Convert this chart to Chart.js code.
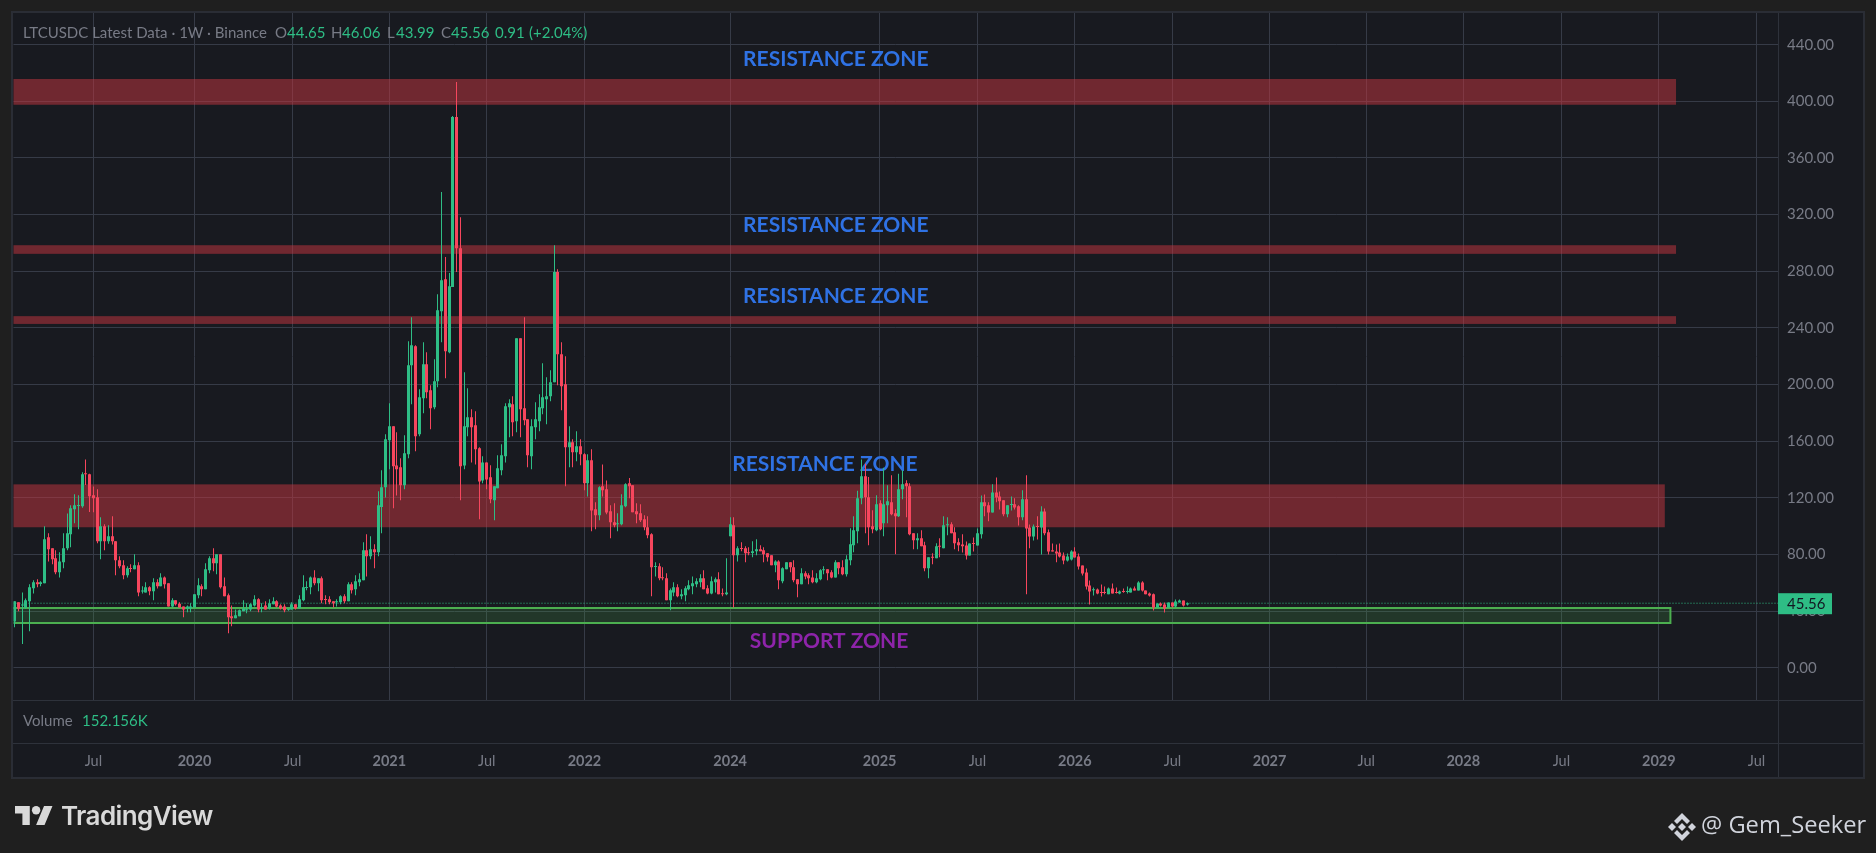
<!DOCTYPE html>
<html>
<head>
<meta charset="utf-8">
<title>LTCUSDC</title>
<script src="https://cdn.jsdelivr.net/npm/chart.js@4"></script>
<style>
  html, body { margin: 0; padding: 0; background: #1f1f1f; overflow: hidden; }
  #wrap { position: relative; width: 1876px; height: 853px; font-family: Lato, "Noto Sans", sans-serif; }
  #pane { position: absolute; left: 13px; top: 13px; width: 1850px; height: 764px; background: #181a20; box-shadow: 0 0 0 2px #2a2d35; }
  .rule { position: absolute; background: #2e323b; }
  canvas { position: absolute; left: 0; top: 0; display: block; }
  .t { position: absolute; white-space: nowrap; line-height: 1; }
  .gray { color: #787b86; }
  .green { color: #2ebd85; }
  .hd { top: 25px; font-size: 15px; }
  svg { position: absolute; }
</style>
</head>
<body>
<div id="wrap">
  <div id="pane"></div>
  <div class="rule" style="left:13px;top:700px;width:1850px;height:1px"></div>
  <div class="rule" style="left:13px;top:743px;width:1850px;height:1px"></div>
  <div class="rule" style="left:1778px;top:13px;width:1px;height:764px"></div>
  <canvas id="grafico" width="1876" height="853"></canvas>

  <span class="t hd gray" style="left:23px">LTCUSDC Latest Data · 1W · Binance</span>
  <span class="t hd gray" style="left:275px">O</span><span class="t hd green" style="left:287px">44.65</span>
  <span class="t hd gray" style="left:331px">H</span><span class="t hd green" style="left:342px">46.06</span>
  <span class="t hd gray" style="left:387px">L</span><span class="t hd green" style="left:396px">43.99</span>
  <span class="t hd gray" style="left:441px">C</span><span class="t hd green" style="left:451px">45.56</span>
  <span class="t hd green" style="left:495px">0.91</span><span class="t hd green" style="left:529px">(+2.04%)</span>

  <span class="t gray" style="left:23px;top:713px;font-size:15px">Volume</span>
  <span class="t green" style="left:82px;top:713px;font-size:15px">152.156K</span>

  <svg style="left:15px;top:806px" width="38" height="19" viewBox="0 4 36 18" fill="#d9d9d9"><path d="M14 22H7V11H0V4h14v18zM28 22h-8l7.5-18h8L28 22z"/><circle cx="20" cy="8" r="4"/></svg>
  <span class="t" style="left:61px;top:803px;font-size:26px;font-weight:600;color:#d9d9d9;font-family:Inter,Roboto,sans-serif;letter-spacing:-0.6px">TradingView</span>

  <svg style="left:1668px;top:813px" width="28" height="28" viewBox="0 0 28 28" fill="#d1d4dc"><path d="M14 0l8 8-3 3-5-5-5 5-3-3zM14 28l8-8-3-3-5 5-5-5-3 3zM4 10l4 4-4 4-4-4zM24 10l4 4-4 4-4-4zM14 10l4 4-4 4-4-4z"/></svg>
  <span class="t" style="left:1701px;top:813px;font-size:23.7px;color:#d1d4dc;font-family:'Open Sans',sans-serif">@ Gem_Seeker</span>
</div>

<script>
// --- VELAS SEMANALES ---
const opens = [
  32.7,46.2,44,42.4,46.9,56.1,60.3,59.1,59.6,92.1,
  84.3,77.3,67.4,74.4,84.3,94.2,111.9,114.3,114,137,
  136.6,121.8,120.4,89.3,99.9,89.3,92.8,89.3,75.9,72.3,
  65.3,70.2,69.5,72.3,53.9,53.2,56.8,54,60.3,57.5,
  63.8,59.6,43.3,47.6,45.2,43.3,41.9,41.9,42.6,51.1,
  57.5,55.4,68.8,77.3,73.7,80.1,57.5,51.1,36.3,34.9,
  36.3,39.8,40.5,41.2,44,48.3,41.9,44,41.9,44.8,
  46.9,44,43.3,40.9,41.2,44.8,41.9,47.6,56.3,56.8,
  63.8,59.6,63.1,48.3,48.3,46.9,46.2,46.2,50.4,46.9,
  58.9,55.4,60.3,61.7,82.9,78.7,83.6,81.5,113.5,127.4,
  160.6,170.5,142.9,141.5,128.8,150.7,213.6,227,164.9,190.3,
  214.3,196,183.9,202.3,251.8,274.4,222.8,268.8,388.9,296.3,
  142.9,169.8,176.9,171.2,155,132.3,145,134.5,118.2,126.7,
  139.4,149.3,183.9,186.1,174,232.7,183.2,175.5,149.3,169.8,
  174,183.2,189.6,191.7,201.6,279.4,221.4,200.2,155.7,159.2,
  152.1,156.4,150.7,130.2,146.5,111.9,107.6,128.1,126,110.5,
  102.7,101.3,101.3,114,130.3,128.9,110.5,109.1,104.8,99.2,
  94.2,71.1,71.6,63.6,63.1,47.6,53.2,56.8,50.4,51.1,
  55.4,57.5,58.9,60.3,63.1,56.1,52.5,60.3,62.4,52.3,
  51.8,92.8,100.6,79.4,84.3,84.3,81.2,81,82.2,83.6,
  83,80.8,79.4,72.3,75.1,61,69.5,74.4,70.9,62.4,
  58.9,66.7,65.3,63.8,60.3,62.4,68.8,69.5,67.4,63.8,
  74.4,70.9,66,75.9,86.5,96.4,119.7,135.2,120.4,99.9,
  97,116.1,102,114.7,116.8,109.1,107,126,130.3,128.2,
  95,90,91.4,86.5,70.2,78.2,77.3,86,84.3,100.6,
  101.3,95.6,88.6,87.1,86.4,79.3,87.8,86.4,94.2,116.8,
  114.7,109.7,123.8,121,118.2,108.3,114.9,115.4,114,106.2,
  118.9,99.1,92.7,99.8,99.1,110.4,95.6,82.9,82.1,81.4,
  79.3,75.8,76.5,82.1,78.6,72.2,67.3,58.1,54.8,55.3,
  53.2,53.2,51.8,56,53.2,52.5,53.9,53.4,53.2,56,
  54.6,60.2,54.6,52.5,51.8,42.6,45.4,44.7,42.6,46.1,43.3,46.1,47.5,44.65
];
const highs = [
  47,46.2,53.2,48.8,58.9,61.7,62.4,61,99.9,95,
  84.3,82.9,81.5,94.9,109,114.7,122.5,121.8,138,147,
  137,128,126,106.2,101.3,100.6,107,89.3,78.7,75.9,
  71.6,73,80.1,74.4,57.5,60.3,57.5,63.1,62.4,66.7,
  64.5,59.6,49,47.6,46.2,43.3,44,45.5,51.8,63.1,
  58.9,73.7,78.7,84.3,80.1,80.1,63.8,52.5,44,41.2,
  41.2,47.6,45.5,45.5,51.1,49,45.5,46.9,48.3,49.7,
  47.6,44.8,44.8,41.7,46.2,44.8,51.1,65.3,61,64.5,
  68.8,63.1,64.5,51.1,50.4,46.9,48.3,51.1,51.8,60.3,
  60.3,65.3,66.7,88.6,94.2,92.8,87.2,124.6,139.4,164.9,
  186.8,170.5,166.3,147.9,164.2,230.6,247.6,227.8,196.7,229.9,
  222.8,199.5,217.9,263.8,335.9,290,278.7,389.6,413.7,318.2,
  208.7,197.4,182.5,181.1,155.7,149.3,145,143,128.1,150,
  157.8,186.8,189.6,191.7,232.7,232.7,247.6,175.5,175.5,187.5,
  193.1,215,205.1,210.1,298.4,281.5,229.9,220,170.5,161.3,
  167,161.3,151.4,150.7,154.3,116.8,128.1,143.6,132.3,114.7,
  116.1,109.1,122.5,130.3,134,128.9,116.1,115.4,107.7,107,
  94.9,74.4,73.7,70.9,66.7,56,60.3,58.9,55.4,57.5,
  61.7,64.5,63.1,66,68.8,58.2,64.5,63.8,67.4,56,
  77.3,106.2,106.2,85.8,88.6,85.8,85,89.3,90.7,86.5,
  85,80.8,79.4,75.9,75.9,70.9,74.4,74.4,75.9,62.4,
  70.2,68.1,66.7,68.8,66.7,69.5,71.6,69.5,68.8,75.9,
  74.4,75.9,79.4,98.5,107,125,147,144,134.7,111.2,
  121.8,118.3,141.3,128.9,136,112,137,139.4,132.4,130.3,
  95,95,97,89,78,80.8,87.9,91.4,107,106.2,
  102.7,99.2,91.4,94.2,89.2,87.8,92,98.4,121.7,122.4,
  116.8,129.5,134.4,124.5,118.2,114.7,121,119.6,114.7,125.3,
  135.9,101.2,101.2,106.9,114,112.5,97.7,87.8,87.1,87.8,
  81.4,80.7,82.9,85,80.7,72.2,70.1,61.6,56.7,56,
  58.8,57.4,56.7,59.5,56.7,54.6,56,57.4,56.7,57.4,
  61,61,54.6,53.2,52.5,45.4,46.1,46,46.1,46.1,48.2,48.2,47.5,46.06
];
const lows = [
  28.5,39.8,16.7,41.7,25.7,52.5,56.8,57.5,59.6,75.1,
  73,66,63.8,70.2,82.9,85,102,97.8,113,129,
  110,109.8,87.9,76.6,82.9,87.6,87,65.3,70.2,62.4,
  63.8,67.4,69.5,50.4,52.5,53.2,51.1,47.6,56,57.5,
  56,43.3,42.6,44,42.6,35.6,39.1,39.1,42.6,49,
  50.4,55.4,66.7,68.1,66,56,50.4,24.3,29.2,34.9,
  36.3,39.8,38.4,39.8,43.3,39.1,39.1,41.2,41.2,44.8,
  42.6,41.2,39.1,40.3,41.2,41.2,41.9,46.9,54.7,51.8,
  58.2,54,45.5,44.8,44.8,42.6,43.3,44.8,45.5,46.9,
  52.5,51.1,57.5,61.7,64.5,76.6,70.2,78.7,94.9,120.3,
  140.1,112.6,121.7,118.2,126,147.9,186.1,152.8,163.4,179.7,
  190.3,168.4,182.5,198.1,229.9,204.4,222.1,268.8,279.4,118.2,
  140.1,163.4,145,143.6,104.8,130.2,126,116.1,104.1,126.7,
  135.9,145,162.7,163.4,166.3,162.7,171.2,141.5,140.1,161.3,
  167,179,171.9,188.2,201.6,199.5,181.8,128.1,141.5,141.5,
  145.8,143,125.3,121,96.4,97.8,104.1,121,108.4,91.4,
  99.2,96.4,100.6,113.3,119.7,109.8,102,103,97,91.4,
  50.4,64.5,61.7,61.7,47.6,40.5,50.4,49.7,48.3,46.9,
  54.7,51.8,56.8,56.8,55.4,51.8,51.8,53.2,51.8,50.4,
  51.1,92.8,42.6,75.1,82.2,74.4,79.4,78,79.4,82.2,
  74.4,75.1,72.3,67.4,55.4,59.6,69.5,67.4,60.3,49.7,
  58.9,62.4,58.9,59.6,59.6,61.7,66,61.7,63.1,63.8,
  66,65.3,64.5,72.3,81.5,87.9,115.4,95,86.5,95,
  96.4,97.1,92.8,102,107.7,80.1,106.5,119,106.2,93.5,
  83.6,83.6,85.8,68.1,63.1,73,77.3,78,84.3,93.5,
  95,83.6,82.2,81.4,76.5,79.3,82.1,86.4,91.3,106.9,
  103.4,109.7,116.8,111.8,106.9,106.2,111.1,111.8,100.5,104.1,
  51.8,84.3,89.9,90.6,80,93.5,80,82.1,74.4,77.9,
  73,75,75.8,77.9,69.4,65.2,55.3,44.7,51,51.8,
  50.3,51.8,51.8,52.5,52.5,51.8,53,52.5,53.2,54.6,
  54.6,53.9,51.8,50.3,40.4,42.6,43.3,39,42.6,42.6,42.6,46.1,43.3,43.99
];
const closes = [
  46.9,41.7,44.6,47.6,56.8,60.3,58.9,60.3,90.7,83.6,
  76.6,67.4,75.1,84.3,94.9,112.6,114.7,114.7,136.6,136.6,
  121.1,119.7,89.3,99.9,89.3,92.8,89.3,75.9,71.6,65.3,
  70.2,69.7,72.3,53.2,54.4,56.8,54,60.3,57.5,63.8,
  58.9,43.3,47.6,44.8,42.6,41.2,43.3,43.3,51.8,58.2,
  55.4,69.5,77.3,73.7,80.1,56.8,50.4,35.6,34.9,37,
  40.5,41.9,41,44.8,48.3,41.2,42.9,41.2,45.5,46.9,
  43.3,41.9,40.5,41.1,44.8,41.9,48.3,56.8,56.8,63.8,
  59.6,63.1,47.6,47.8,46.2,45.5,46.5,50.4,46.9,58.9,
  54.7,61,62.4,82.9,78.7,83.6,81.5,114.7,127.4,161.3,
  170.5,142.2,140.1,128.8,151.4,213.6,227.8,163.4,191,214.3,
  194.5,183.2,202.3,252.5,273.7,223.5,269.5,388.9,296.3,142.2,
  170.5,176.9,169.8,154.3,131.6,145,133,118.9,128.1,140.8,
  150,184.6,186.8,173.3,232.7,182.5,174.8,150,170.5,175.5,
  183.9,191,191.7,201.6,279.4,221.4,198.8,155.7,159.2,152.1,
  156.4,150.7,130.2,146.5,111.1,107.6,127.4,125.3,109.7,102.7,
  100.6,101.8,114.7,129.6,128.2,109.8,108.4,104.1,99.2,93.5,
  70.9,71.6,63.1,63.1,47.6,54.7,56.8,50.4,51.8,56.1,
  58.2,59.6,61,63.1,55.4,52.5,61,62.4,51.8,51.8,
  53.2,101.3,79.4,84.3,83.9,80.8,80.8,82.2,83.6,82.2,
  80.1,78,72.3,75.1,61.7,70.2,74.4,70.9,61.7,58.9,
  66.7,64.5,63.1,60.3,63.1,68.8,69.3,66.7,63.8,74.4,
  70.2,66,76.6,87.2,97,119.7,135.2,120.4,99.2,97.8,
  115.4,97.8,115.4,117.6,108.4,107,126,129.6,128.2,94.2,
  90,91.4,85.8,70.2,78,77.7,85.8,85.5,100.6,101.3,
  95,87.9,86.5,85.7,79.3,87.8,87.3,94.9,116.8,114,
  109.7,123.8,120.3,117.5,108.3,114.7,115.4,113.2,106.2,118.9,
  98.4,92.7,99.8,99.3,110.4,94.9,82.1,82.1,80.7,78.6,
  75.8,78.6,82.1,77.9,71.5,66.6,57.4,53.9,55.3,52.5,
  52.7,52.7,56,52.5,52.7,53.9,53.4,53.9,56,54.6,
  60.2,54.6,51.8,51,42.6,45.4,44,41.9,46.1,43.3,46.8,47.5,44,45.56
];
const lastPrice = 45.56;

// --- EJES ---
const priceTicks = [440, 400, 360, 320, 280, 240, 200, 160, 120, 80, 40, 0];
const timeTicks = [21, 48, 74.2, 100, 126, 152.1, 191, 230.9, 257, 283, 309.1, 335, 360.8, 386.7, 412.9, 438.9, 465];
const timeLabels = ['Jul', '2020', 'Jul', '2021', 'Jul', '2022', '2024', '2025', 'Jul', '2026', 'Jul', '2027', 'Jul', '2028', 'Jul', '2029', 'Jul'];
const xMin = -0.32, xMax = 470.72;
const yMin = -22.8, yMax = 462.4;

// --- ZONAS ---
const zoneTops = [415.8, 298.4, 248.3, 129.5];
const zoneBottoms = [397.6, 292.3, 242.8, 99.2];
const zoneEnds = [443.5, 443.5, 443.5, 440.5];
const supportZone = [42.1, 31.5];
const supportEnd = 442;
const zoneTexts = ['RESISTANCE ZONE', 'RESISTANCE ZONE', 'RESISTANCE ZONE', 'RESISTANCE ZONE', 'SUPPORT ZONE'];
const zoneTextX = [219.2, 219.2, 219.2, 216.3, 217.4];
const zoneTextY = [430, 312.6, 262.4, 143.7, 18.6];

const VERDE = '#2ebd85';
const ROJO = '#f6465d';
const colores = opens.map((o, i) => closes[i] >= o ? VERDE : ROJO);

// dibuja zonas y textos debajo de las velas, y ajusta las velas al pixel
const zonasPlugin = {
    id: 'zonas',
    beforeDatasetsDraw(chart) {
        const { ctx, chartArea, scales: { x, y } } = chart;
        chart.data.datasets.forEach((ds, d) => {
            if (ds.type === 'line') return;
            chart.getDatasetMeta(d).data.forEach(el => { el.x = Math.round(el.x - 0.5) + 0.5; });
        });
        ctx.save();
        ctx.fillStyle = 'rgba(200, 54, 64, 0.5)';
        zoneTops.forEach((top, i) => {
            const yt = y.getPixelForValue(top);
            ctx.fillRect(chartArea.left, yt, x.getPixelForValue(zoneEnds[i]) - chartArea.left, y.getPixelForValue(zoneBottoms[i]) - yt);
        });
        const st = y.getPixelForValue(supportZone[0]);
        const sb = y.getPixelForValue(supportZone[1]);
        const sr = x.getPixelForValue(supportEnd);
        ctx.fillStyle = 'rgba(76, 175, 80, 0.2)';
        ctx.fillRect(chartArea.left, st, sr - chartArea.left, sb - st);
        ctx.strokeStyle = '#4caf50';
        ctx.lineWidth = 2;
        ctx.beginPath();
        ctx.moveTo(chartArea.left, st);
        ctx.lineTo(sr, st);
        ctx.lineTo(sr, sb);
        ctx.lineTo(chartArea.left, sb);
        ctx.stroke();
        ctx.font = 'bold 21px Lato, sans-serif';
        ctx.textAlign = 'center';
        ctx.textBaseline = 'middle';
        zoneTexts.forEach((txt, i) => {
            ctx.fillStyle = i === 4 ? '#8e24aa' : '#2f72e4';
            ctx.fillText(txt, x.getPixelForValue(zoneTextX[i]), y.getPixelForValue(zoneTextY[i]));
        });
        ctx.restore();
    },
    afterDraw(chart) {
        // etiqueta del ultimo precio
        const { ctx, chartArea, scales: { y } } = chart;
        const yp = y.getPixelForValue(lastPrice);
        ctx.save();
        ctx.fillStyle = VERDE;
        ctx.fillRect(chartArea.right, yp - 10, 54, 21);
        ctx.fillStyle = '#131722';
        ctx.font = '15px Lato, sans-serif';
        ctx.textAlign = 'left';
        ctx.textBaseline = 'middle';
        ctx.fillText(lastPrice.toFixed(2), chartArea.right + 9, yp + 1);
        ctx.restore();
    }
};

new Chart(document.getElementById('grafico').getContext('2d'), {
    type: 'bar',
    data: {
        datasets: [
            {
                label: 'Cuerpo',
                data: opens.map((o, i) => ({ x: i, y: [o, closes[i]] })),
                backgroundColor: colores,
                barThickness: 3,
                minBarLength: 1,
                grouped: false,
                inflateAmount: 0
            },
            {
                label: 'Mecha',
                data: opens.map((o, i) => ({ x: i, y: [lows[i], highs[i]] })),
                backgroundColor: colores,
                barThickness: 1,
                grouped: false,
                inflateAmount: 0
            },
            {
                type: 'line',
                label: 'Ultimo',
                data: [{ x: xMin, y: lastPrice }, { x: xMax, y: lastPrice }],
                borderColor: VERDE,
                borderWidth: 1,
                borderDash: [1, 2],
                pointRadius: 0
            }
        ]
    },
    options: {
        responsive: false,
        devicePixelRatio: 1,
        animation: false,
        events: [],
        layout: { padding: { left: 13.5, top: 13, right: 0, bottom: 0 } },
        plugins: { legend: { display: false }, tooltip: { enabled: false } },
        scales: {
            x: {
                type: 'linear',
                min: xMin,
                max: xMax,
                offset: false,
                grid: { color: '#363b47', offset: false, drawTicks: false },
                border: { display: false },
                afterBuildTicks: s => { s.ticks = timeTicks.map(value => ({ value })); },
                afterFit: s => { s.height = 153; s.paddingLeft = 0; s.paddingRight = 0; },
                ticks: {
                    autoSkip: false,
                    maxRotation: 0,
                    padding: 53,
                    color: '#787b86',
                    font: c => ({ family: 'Lato, sans-serif', size: 14.5, weight: timeLabels[c.index] === 'Jul' ? 'normal' : 'bold' }),
                    callback: (v, i) => timeLabels[i]
                }
            },
            y: {
                position: 'right',
                min: yMin,
                max: yMax,
                grid: { color: '#363b47', drawTicks: false },
                border: { display: false },
                afterBuildTicks: s => { s.ticks = priceTicks.map(value => ({ value })); },
                afterFit: s => { s.width = 98; s.paddingTop = 0; s.paddingBottom = 0; },
                ticks: {
                    padding: 9,
                    color: '#787b86',
                    font: { family: 'Lato, sans-serif', size: 15 },
                    callback: v => v.toFixed(2)
                }
            }
        }
    },
    plugins: [zonasPlugin]
});
</script>
</body>
</html>
